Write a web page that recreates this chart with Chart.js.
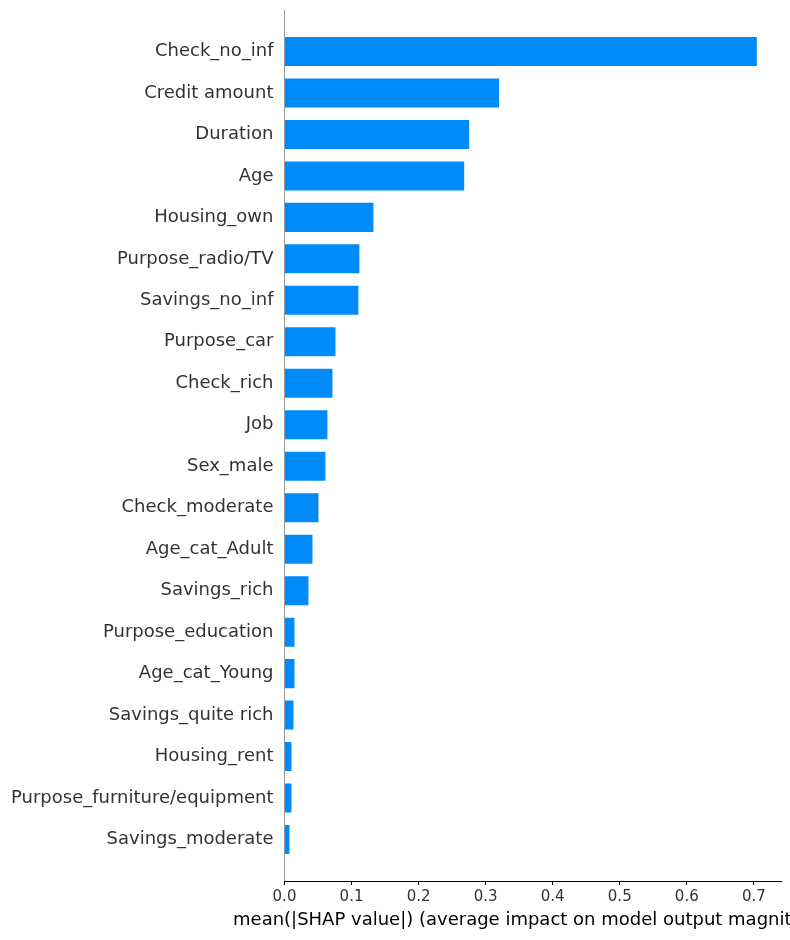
<!DOCTYPE html>
<html lang="en">
<head>
  <meta charset="UTF-8">
  <title>SHAP feature importance</title>
  <style>
    html, body { margin: 0; padding: 0; background: #fff; }
    #wrap { width: 790px; height: 940px; }
  </style>
</head>
<body>
  <div id="wrap"><canvas id="chartCanvas"></canvas></div>

  <script src="https://cdn.jsdelivr.net/npm/chart.js"></script>
  <script>
    // features, top to bottom
    const features = [
      'Check_no_inf', 'Credit amount', 'Duration', 'Age', 'Housing_own',
      'Purpose_radio/TV', 'Savings_no_inf', 'Purpose_car', 'Check_rich', 'Job',
      'Sex_male', 'Check_moderate', 'Age_cat_Adult', 'Savings_rich', 'Purpose_education',
      'Age_cat_Young', 'Savings_quite rich', 'Housing_rent', 'Purpose_furniture/equipment', 'Savings_moderate'
    ];
    // mean(|SHAP value|)
    const meanShap = [
      0.7045, 0.320, 0.2755, 0.268, 0.1326,
      0.1117, 0.1102, 0.076, 0.0715, 0.064,
      0.061, 0.0506, 0.0417, 0.0357, 0.0149,
      0.0149, 0.0134, 0.0104, 0.0104, 0.0074
    ];
    const xTicks = [0, 0.1, 0.2, 0.3, 0.4, 0.5, 0.6, 0.7];
    const xMax = 0.7405;
    const xTitle = 'mean(|SHAP value|) (average impact on model output magnitude)';

    const font = 'DejaVu Sans';
    const textColor = '#333333';

    // the built-in axis title gets squeezed to the chart width; the original is just cut off
    const xTitlePlugin = {
      id: 'xTitle',
      afterDraw(chart) {
        const c = chart.ctx;
        const area = chart.chartArea;
        c.save();
        c.font = '18px "' + font + '"';
        c.fillStyle = '#000000';
        c.textAlign = 'center';
        c.textBaseline = 'middle';
        c.fillText(xTitle, (area.left + area.right) / 2, area.bottom + 39);
        c.restore();
      }
    };

    const ctx = document.getElementById('chartCanvas').getContext('2d');
    new Chart(ctx, {
      type: 'bar',
      data: {
        datasets: [{
          data: meanShap.map((v, i) => ({ x: v, y: i })),
          backgroundColor: '#008bfb',
          borderWidth: 0,
          categoryPercentage: 1.0,
          barPercentage: 0.7
        }]
      },
      options: {
        indexAxis: 'y',
        responsive: true,
        maintainAspectRatio: false,
        animation: false,
        layout: { padding: { top: 10, right: 9, left: 0, bottom: 31 } },
        plugins: {
          legend: { display: false },
          tooltip: { enabled: false }
        },
        scales: {
          y: {
            type: 'linear',
            reverse: true,
            offset: false,
            min: -1,
            max: features.length,
            afterBuildTicks: axis => {
              axis.ticks = features.map((f, i) => ({ value: i }));
            },
            afterFit: axis => {
              // labels sit well inside the axis, no need for edge padding
              axis.paddingTop = 0;
              axis.paddingBottom = 0;
            },
            ticks: {
              autoSkip: false,
              padding: 11,
              color: textColor,
              font: { family: font, size: 18 },
              callback: v => features[v] ?? ''
            },
            grid: { display: false, drawTicks: false },
            border: { display: true, color: '#999999', width: 1 }
          },
          x: {
            type: 'linear',
            min: 0,
            max: xMax,
            afterBuildTicks: axis => {
              axis.ticks = xTicks.map(v => ({ value: v }));
            },
            ticks: {
              color: textColor,
              padding: 3,
              font: { family: font, size: 15 },
              callback: v => v.toFixed(1)
            },
            grid: {
              drawOnChartArea: false,
              drawTicks: true,
              tickLength: 4,
              color: '#000000'
            },
            border: { display: true, color: '#000000', width: 1 }
          }
        }
      },
      plugins: [xTitlePlugin]
    });
  </script>
</body>
</html>
